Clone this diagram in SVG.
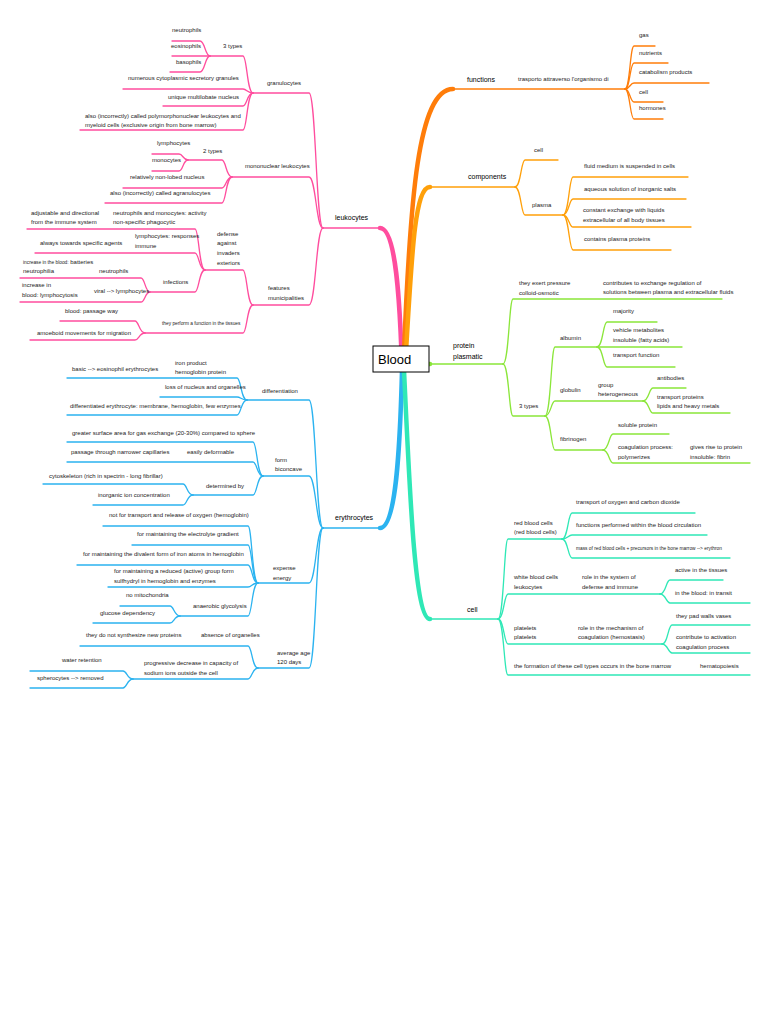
<svg xmlns="http://www.w3.org/2000/svg" width="768" height="1024" viewBox="0 0 768 1024">
<style>
text{font-family:"Liberation Sans",Arial,sans-serif;font-size:6px;fill:#222}
.m{font-size:7px;fill:#000}
.s{font-size:4.8px}
path{fill:none;stroke-width:1.3;stroke-linecap:round}
.pk{stroke:#ff4d9e}.bl{stroke:#2bb3f0}.or{stroke:#ff7d0a}.yo{stroke:#ffa00a}.gr{stroke:#8be63a}.cy{stroke:#2fe8b6}
.t{stroke-width:4.5}
</style>
<rect width="768" height="1024" fill="#fff"/>
<g id="connectors">
<path class="pk t" d="M402,370 C400,300 396,228 380,228"/>
<path class="bl t" d="M402,370 C400,450 396,528 380,528"/>
<path class="or t" d="M404,352 C410,200 418,89 453,89"/>
<path class="yo t" d="M406,352 C412,250 415,187 430,187"/>
<path class="gr t" d="M420,364 H430"/>
<path class="cy t" d="M404,370 C410,500 415,619 430,619"/>
<g class="pk">
<path d="M380,228 H323"/>
<path d="M323,228 C316,228 316,93 309,93 H253"/>
<path d="M323,228 C316,228 316,177 309,177 H232"/>
<path d="M323,228 C316,228 316,305 309,305 H253"/>
<path d="M253,93 C247,93 247,56 243,56 H210"/>
<path d="M253,93 C247,93 247,89 243,89 H123"/>
<path d="M253,93 C247,93 247,106 243,106 H163"/>
<path d="M253,93 C247,93 247,130 243,130 H80"/>
<path d="M210,56 C205,56 205,41 200,41 H172"/>
<path d="M210,56 H172"/>
<path d="M210,56 C205,56 205,72 200,72 H170"/>
<path d="M232,177 C226,177 226,160 222,160 H188"/>
<path d="M232,177 C226,177 226,188 222,188 H123"/>
<path d="M232,177 C226,177 226,203 222,203 H105"/>
<path d="M188,160 C183,160 183,154 179,154 H152"/>
<path d="M188,160 C183,160 183,171 179,171 H152"/>
<path d="M253,305 C247,305 247,270 243,270 H205"/>
<path d="M253,305 C247,305 247,333 243,333 H145"/>
<path d="M205,270 C199,270 199,229 195,229 H27"/>
<path d="M205,270 C199,270 199,253 195,253 H35"/>
<path d="M205,270 C199,270 199,292 195,292 H150"/>
<path d="M150,292 C145,292 145,278 141,278 H20"/>
<path d="M150,292 C145,292 145,302 141,302 H20"/>
<path d="M145,333 C139,333 139,321 135,321 H60"/>
<path d="M145,333 C139,333 139,340 135,340 H30"/>
</g>
<g class="bl">
<path d="M380,528 H323"/>
<path d="M323,528 C316,528 316,400 309,400 H247"/>
<path d="M323,528 C316,528 316,476 309,476 H263"/>
<path d="M323,528 C316,528 316,583 309,583 H258"/>
<path d="M323,528 C316,528 316,668 309,668 H258"/>
<path d="M247,400 C241,400 241,378 237,378 H67"/>
<path d="M247,400 C241,400 241,397 237,397 H160"/>
<path d="M247,400 C241,400 241,415 237,415 H67"/>
<path d="M263,476 C257,476 257,442 253,442 H67"/>
<path d="M263,476 C257,476 257,462 253,462 H67"/>
<path d="M263,476 C257,476 257,495 253,495 H193"/>
<path d="M193,495 C187,495 187,484 183,484 H43"/>
<path d="M193,495 C187,495 187,505 183,505 H93"/>
<path d="M258,583 C252,583 252,526 248,526 H103"/>
<path d="M258,583 C252,583 252,545 248,545 H132"/>
<path d="M258,583 C252,583 252,565 248,565 H77"/>
<path d="M258,583 C252,583 252,587 248,587 H108"/>
<path d="M258,583 C252,583 252,616 248,616 H180"/>
<path d="M180,616 C174,616 174,606 170,606 H120"/>
<path d="M180,616 C174,616 174,623 170,623 H93"/>
<path d="M258,668 C252,668 252,646 248,646 H80"/>
<path d="M258,668 C252,668 252,679 248,679 H133"/>
<path d="M133,679 C127,679 127,671 123,671 H30"/>
<path d="M133,679 C127,679 127,688 123,688 H30"/>
</g>
<g class="or">
<path d="M453,89 H625"/>
<path d="M625,89 C630,89 630,46 634,46 H655"/>
<path d="M625,89 C630,89 630,63 634,63 H668"/>
<path d="M625,89 C630,89 630,83 634,83 H709"/>
<path d="M625,89 C630,89 630,102 634,102 H663"/>
<path d="M625,89 C630,89 630,119 634,119 H663"/>
</g>
<g class="yo">
<path d="M430,187 H515"/>
<path d="M515,187 C521,187 521,160 525,160 H558"/>
<path d="M515,187 C521,187 521,215 525,215 H563"/>
<path d="M563,215 C569,215 569,177 573,177 H688"/>
<path d="M563,215 C569,215 569,199 573,199 H686"/>
<path d="M563,215 C569,215 569,227 573,227 H691"/>
<path d="M563,215 C569,215 569,250 573,250 H671"/>
</g>
<g class="gr">
<path d="M430,364 H503"/>
<path d="M503,364 C509,364 509,299 513,299 H722"/>
<path d="M503,364 C509,364 509,416 513,416 H545"/>
<path d="M545,416 C551,416 551,347 555,347 H597"/>
<path d="M545,416 C551,416 551,401 555,401 H643"/>
<path d="M545,416 C551,416 551,450 555,450 H603"/>
<path d="M597,347 C603,347 603,322 607,322 H657"/>
<path d="M597,347 H682"/>
<path d="M597,347 C603,347 603,367 607,367 H675"/>
<path d="M643,401 C649,401 649,388 653,388 H686"/>
<path d="M643,401 C649,401 649,413 653,413 H730"/>
<path d="M603,450 C609,450 609,434 613,434 H669"/>
<path d="M603,450 C609,450 609,463 613,463 H750"/>
</g>
<g class="cy">
<path d="M430,619 H498"/>
<path d="M498,619 C504,619 504,539 508,539 H562"/>
<path d="M498,619 C504,619 504,594 508,594 H660"/>
<path d="M498,619 C504,619 504,644 508,644 H662"/>
<path d="M498,619 C504,619 504,675 508,675 H750"/>
<path d="M562,539 C568,539 568,513 572,513 H695"/>
<path d="M562,539 C568,539 568,535 572,535 H707"/>
<path d="M562,539 C568,539 568,558 572,558 H730"/>
<path d="M660,594 C666,594 666,580 670,580 H723"/>
<path d="M660,594 C666,594 666,603 670,603 H750"/>
<path d="M662,644 C668,644 668,625 672,625 H750"/>
<path d="M662,644 C668,644 668,653 672,653 H750"/>
</g>
</g>
<g id="blood"><rect x="373" y="346" width="56" height="26" fill="#fff" stroke="#000"/><text x="378" y="364" style="font-size:13px;fill:#000">Blood</text></g>
<g id="leukocytes">
<text class="m" x="335" y="220">leukocytes</text>
<text x="267" y="85">granulocytes</text>
<text x="245" y="168">mononuclear leukocytes</text>
<text x="268" y="290">features</text><text x="268" y="300">municipalities</text>
<text x="223" y="48">3 types</text>
<text x="172" y="32">neutrophils</text><text x="171" y="48">eosinophils</text><text x="176" y="64">basophils</text>
<text x="128" y="80">numerous cytoplasmic secretory granules</text>
<text x="168" y="99">unique multilobate nucleus</text>
<text x="85" y="118">also (incorrectly) called polymorphonuclear leukocytes and</text>
<text x="85" y="127">myeloid cells (exclusive origin from bone marrow)</text>
<text x="157" y="145">lymphocytes</text><text x="203" y="153">2 types</text><text x="152" y="162">monocytes</text>
<text x="130" y="179">relatively non-lobed nucleus</text>
<text x="110" y="195">also (incorrectly) called agranulocytes</text>
<text x="31" y="215">adjustable and directional</text><text x="31" y="224">from the immune system</text>
<text x="113" y="215">neutrophils and monocytes: activity</text><text x="113" y="224">non-specific phagocytic</text>
<text x="217" y="236">defense</text><text x="217" y="245">against</text><text x="217" y="255">invaders</text><text x="217" y="265">exteriors</text>
<text x="40" y="245">always towards specific agents</text>
<text x="135" y="238">lymphocytes: responses</text><text x="135" y="248">immune</text>
<text x="23" y="264"><tspan class="s">increase in the blood:</tspan> batteries</text><text x="23" y="273">neutrophilia</text>
<text x="99" y="273">neutrophils</text>
<text x="163" y="284">infections</text>
<text x="22" y="287">increase in</text><text x="22" y="297">blood: lymphocytosis</text>
<text x="94" y="293">viral --&gt; lymphocytes</text>
<text x="65" y="313">blood: passage way</text>
<text class="s" x="162" y="325">they perform a function in the tissues</text>
<text x="37" y="335">amoeboid movements for migration</text>
</g>
<g id="erythrocytes">
<text class="m" x="335" y="520">erythrocytes</text>
<text x="262" y="393">differentiation</text>
<text x="275" y="462">form</text><text x="275" y="471">biconcave</text>
<text x="273" y="570">expense</text><text x="273" y="580">energy</text>
<text x="277" y="655">average age</text><text x="277" y="664">120 days</text>
<text x="72" y="371">basic --&gt; eosinophil erythrocytes</text>
<text x="175" y="365">iron product</text><text x="175" y="374">hemoglobin protein</text>
<text x="165" y="389">loss of nucleus and organelles</text>
<text x="70" y="408">differentiated erythrocyte: membrane, hemoglobin, few enzymes</text>
<text x="72" y="435">greater surface area for gas exchange (20-30%) compared to sphere</text>
<text x="71" y="454">passage through narrower capillaries</text><text x="187" y="454">easily deformable</text>
<text x="49" y="478">cytoskeleton (rich in spectrin - long fibrillar)</text>
<text x="206" y="488">determined by</text>
<text x="98" y="497">inorganic ion concentration</text>
<text x="109" y="517">not for transport and release of oxygen (hemoglobin)</text>
<text x="137" y="536">for maintaining the electrolyte gradient</text>
<text x="83" y="556">for maintaining the divalent form of iron atoms in hemoglobin</text>
<text x="114" y="573">for maintaining a reduced (active) group form</text><text x="114" y="583">sulfhydryl in hemoglobin and enzymes</text>
<text x="126" y="597">no mitochondria</text>
<text x="193" y="608">anaerobic glycolysis</text>
<text x="100" y="615">glucose dependency</text>
<text x="86" y="637">they do not synthesize new proteins</text><text x="201" y="637">absence of organelles</text>
<text x="62" y="662">water retention</text>
<text x="144" y="665">progressive decrease in capacity of</text><text x="144" y="675">sodium ions outside the cell</text>
<text x="37" y="680">spherocytes --&gt; removed</text>
</g>
<g id="functions">
<text class="m" x="467" y="82">functions</text>
<text x="518" y="81">trasporto attraverso l'organismo di</text>
<text x="639" y="37">gas</text><text x="639" y="55">nutrients</text><text x="639" y="74">catabolism products</text><text x="639" y="94">cell</text><text x="639" y="110">hormones</text>
</g>
<g id="components">
<text class="m" x="468" y="179">components</text>
<text x="534" y="152">cell</text><text x="532" y="207">plasma</text>
<text x="584" y="168">fluid medium is suspended in cells</text>
<text x="584" y="191">aqueous solution of inorganic salts</text>
<text x="583" y="212">constant exchange with liquids</text><text x="583" y="222">extracellular of all body tissues</text>
<text x="584" y="241">contains plasma proteins</text>
</g>
<g id="protein">
<text class="m" x="453" y="348">protein</text><text class="m" x="453" y="359">plasmatic</text>
<text x="519" y="285">they exert pressure</text><text x="519" y="295">colloid-osmotic</text>
<text x="603" y="285">contributes to exchange regulation of</text><text x="603" y="294">solutions between plasma and extracellular fluids</text>
<text x="613" y="313">majority</text>
<text x="560" y="340">albumin</text>
<text x="613" y="332">vehicle metabolites</text><text x="613" y="342">insoluble (fatty acids)</text>
<text x="613" y="357">transport function</text>
<text x="657" y="380">antibodies</text>
<text x="560" y="392">globulin</text>
<text x="598" y="387">group</text><text x="598" y="396">heterogeneous</text>
<text x="657" y="399">transport proteins</text><text x="657" y="408">lipids and heavy metals</text>
<text x="519" y="408">3 types</text>
<text x="618" y="427">soluble protein</text>
<text x="560" y="441">fibrinogen</text>
<text x="618" y="449">coagulation process:</text><text x="618" y="459">polymerizes</text>
<text x="690" y="449">gives rise to protein</text><text x="690" y="459">insoluble: fibrin</text>
</g>
<g id="cell">
<text class="m" x="467" y="612">cell</text>
<text x="576" y="504">transport of oxygen and carbon dioxide</text>
<text x="514" y="525">red blood cells</text><text x="514" y="534">(red blood cells)</text>
<text x="576" y="527">functions performed within the blood circulation</text>
<text class="s" x="576" y="550">mass of red blood cells + precursors in the bone marrow --&gt; erythron</text>
<text x="675" y="572">active in the tissues</text>
<text x="514" y="579">white blood cells</text><text x="514" y="589">leukocytes</text>
<text x="582" y="579">role in the system of</text><text x="582" y="589">defense and immune</text>
<text x="675" y="595">in the blood: in transit</text>
<text x="676" y="618">they pad walls vases</text>
<text x="514" y="630">platelets</text><text x="514" y="639">platelets</text>
<text x="578" y="630">role in the mechanism of</text><text x="578" y="639">coagulation (hemostasis)</text>
<text x="676" y="639">contribute to activation</text><text x="676" y="649">coagulation process</text>
<text x="514" y="668">the formation of these cell types occurs in the bone marrow</text><text x="700" y="668">hematopoiesis</text>
</g>
</svg>
